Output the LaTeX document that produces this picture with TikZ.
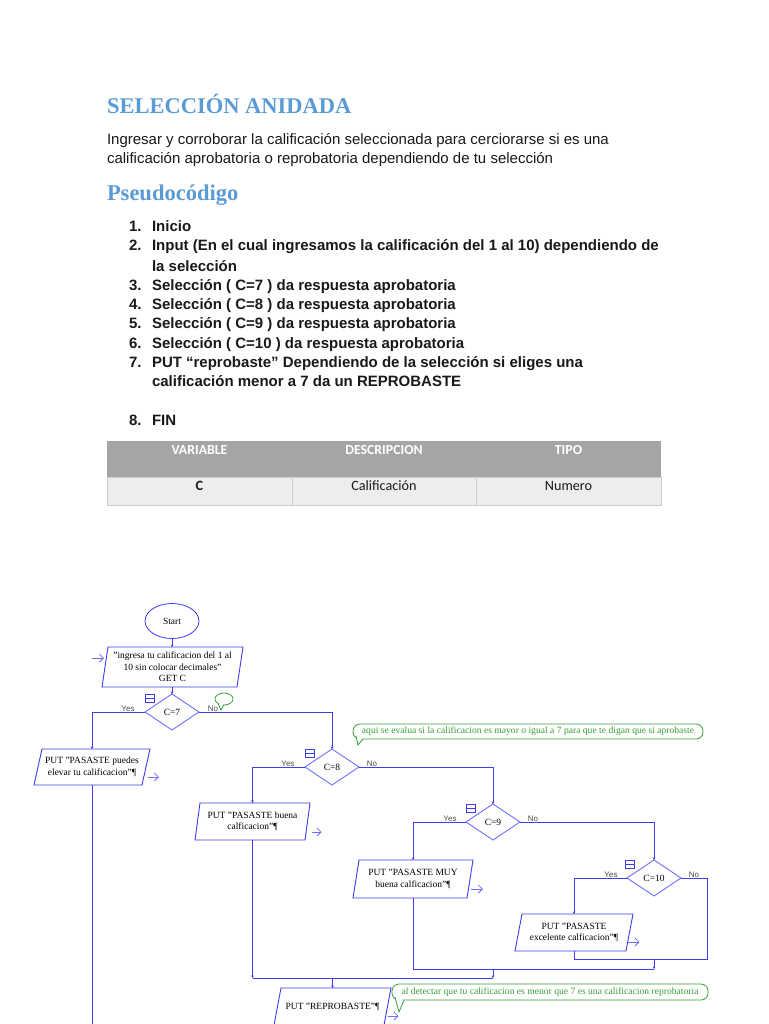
\documentclass[tikz,border=0pt]{standalone}
\usepackage{fontspec}
\setmainfont{Liberation Serif}
\setsansfont{Liberation Sans}
\newfontfamily\carlito{Carlito}
\usetikzlibrary{shapes.geometric,arrows.meta,calc}
\definecolor{headblue}{RGB}{91,155,213}
\definecolor{txt}{RGB}{25,25,25}
\definecolor{fblue}{RGB}{60,60,240}
\definecolor{lblue}{RGB}{110,110,255}
\definecolor{bgreen}{RGB}{55,160,55}
\definecolor{thead}{RGB}{165,165,165}
\definecolor{tbody}{RGB}{237,237,237}
\definecolor{tline}{RGB}{205,205,205}
\newcommand\ftxt{\fontsize{9.5}{11.5}\selectfont}
\newcommand\pgram[2]{\draw[fblue,line width=0.9] ([xshift=#2]#1.north west) -- ([xshift=#2]#1.north east) -- ([xshift=-#2]#1.south east) -- ([xshift=-#2]#1.south west) -- cycle;}
\begin{document}
\begin{tikzpicture}[x=1pt,y=-1pt,
  every node/.style={inner sep=0pt,outer sep=0pt},
  heading/.style={anchor=base west,font=\bfseries\fontsize{22.5}{26}\selectfont,text=headblue},
  body/.style={anchor=base west,font=\sffamily\fontsize{15}{17}\selectfont,text=txt},
  item/.style={anchor=base west,font=\sffamily\bfseries\fontsize{15}{17}\selectfont,text=txt},
  hcell/.style={anchor=north west,fill=thead,minimum height=36},
  bcell/.style={anchor=north west,fill=tbody,draw=tline,line width=0.8,minimum height=28},
  htext/.style={font=\carlito\bfseries\fontsize{13.8}{15}\selectfont,text=white},
  btext/.style={font=\carlito\fontsize{14.2}{16}\selectfont,text=txt},
  term/.style={ellipse,draw=fblue,line width=0.8,minimum width=54,minimum height=35,font=\ftxt},
  dec/.style={diamond,draw=lblue,line width=0.9,minimum width=54,minimum height=36,font=\ftxt},
  io/.style={align=center,font=\ftxt,text=black},
  sq/.style={rectangle,draw=fblue,line width=0.7,minimum width=9,minimum height=8,
    path picture={\draw[fblue,line width=0.6] (path picture bounding box.west) -- (path picture bounding box.east);}},
  yn/.style={anchor=base,font=\sffamily\fontsize{8}{9}\selectfont,text=black!70},
  conn/.style={draw=fblue,line width=0.9,-{Stealth[length=2.5pt,width=2.5pt]}},
  wire/.style={draw=fblue,line width=0.9},
  outarr/.style={draw=lblue,line width=0.8,-{Straight Barb[length=4pt,width=8pt]}},
  bubble/.style={draw=bgreen,rounded corners=7,line width=0.8,text=bgreen,font=\fontsize{9.6}{10.5}\selectfont}]
\fill[white] (0,0) rectangle (768,1024);
\useasboundingbox (0,0) rectangle (768,1024);

% ---------- text ----------
\node[heading] (title) at (107,114) {SELECCIÓN ANIDADA};
\node[body] (p1) at (107,145) {Ingresar y corroborar la calificación seleccionada para cerciorarse si es una};
\node[body] (p2) at (107,164) {calificación aprobatoria o reprobatoria dependiendo de tu selección};
\node[heading] (sub) at (107,201) {Pseudocódigo};

\node[item] (n1) at (129,232) {1.};
\node[item] (t1) at (152,232) {Inicio};
\node[item] (n2) at (129,251) {2.};
\node[item] (t2) at (152,251) {Input (En el cual ingresamos la calificación del 1 al 10) dependiendo de};
\node[item] (t2b) at (152,271) {la selección};
\node[item] (n3) at (129,290) {3.};
\node[item] (t3) at (152,290) {Selección ( C=7 ) da respuesta aprobatoria};
\node[item] (n4) at (129,309) {4.};
\node[item] (t4) at (152,309) {Selección ( C=8 ) da respuesta aprobatoria};
\node[item] (n5) at (129,328) {5.};
\node[item] (t5) at (152,328) {Selección ( C=9 ) da respuesta aprobatoria};
\node[item] (n6) at (129,348) {6.};
\node[item] (t6) at (152,348) {Selección ( C=10 ) da respuesta aprobatoria};
\node[item] (n7) at (129,367) {7.};
\node[item] (t7) at (152,367) {PUT “reprobaste” Dependiendo de la selección si eliges una};
\node[item] (t7b) at (152,386) {calificación menor a 7 da un REPROBASTE};
\node[item] (n8) at (129,425) {8.};
\node[item] (t8) at (152,425) {FIN};

% ---------- table ----------
\node[hcell,minimum width=185] (h1) at (107,441) {};
\node[hcell,minimum width=184] (h2) at (292,441) {};
\node[hcell,minimum width=185] (h3) at (476,441) {};
\node[bcell,minimum width=185] (b1) at (107,477) {};
\node[bcell,minimum width=184] (b2) at (292,477) {};
\node[bcell,minimum width=185] (b3) at (476,477) {};
\node[htext] (h1t) at (199.5,450.5) {VARIABLE};
\node[htext] (h2t) at (384,450.5) {DESCRIPCION};
\node[htext] (h3t) at (568.5,450.5) {TIPO};
\node[btext,font=\carlito\bfseries\fontsize{14.2}{16}\selectfont] (b1t) at (199.5,486) {C};
\node[btext] (b2t) at (384,486) {Calificación};
\node[btext] (b3t) at (568.5,486) {Numero};

% ---------- flowchart ----------
\node[term] (start) at (172,621) {Start};
\node[io,minimum width=135,minimum height=40] (inp) at (172.5,667) {"ingresa tu calificacion del 1 al\\10 sin colocar decimales"\\GET C};
\pgram{inp}{3}
\draw[outarr] ($(inp.west)+(-13,-9)$) -- ++(12,0);

\node[dec] (c7) at (172,712) {C=7};
\node[dec] (c8) at (332,767) {C=8};
\node[dec] (c9) at (493,822) {C=9};
\node[dec] (c10) at (654,878) {C=10};
\node[sq] (s7) at ($(c7)+(-22,-14)$) {};
\node[sq] (s8) at ($(c8)+(-22,-14)$) {};
\node[sq] (s9) at ($(c9)+(-22,-14)$) {};
\node[sq] (s10) at ($(c10)+(-24,-14)$) {};
\node[yn] (y7) at ($(c7)+(-44,-1)$) {Yes};
\node[yn] (o7) at ($(c7)+(41,-1)$) {No};
\node[yn] (y8) at ($(c8)+(-44,-1)$) {Yes};
\node[yn] (o8) at ($(c8)+(40,-1)$) {No};
\node[yn] (y9) at ($(c9)+(-43,-1)$) {Yes};
\node[yn] (o9) at ($(c9)+(40,-1)$) {No};
\node[yn] (y10) at ($(c10)+(-43,-1)$) {Yes};
\node[yn] (o10) at ($(c10)+(40,-1)$) {No};

\node[io,minimum width=108,minimum height=36] (put1) at (92,767) {PUT "PASASTE puedes\\elevar tu calificacion"¶};
\node[io,minimum width=110,minimum height=37] (put2) at (252.5,821.5) {PUT "PASASTE buena\\calficacion"¶};
\node[io,minimum width=114,minimum height=38] (put3) at (413,879) {PUT "PASASTE MUY\\buena calficacion"¶};
\node[io,minimum width=111,minimum height=37] (put4) at (574,932.5) {PUT "PASASTE\\excelente calficacion"¶};
\node[io,minimum width=110,minimum height=37] (rep) at (332.5,1006.5) {PUT "REPROBASTE"¶};
\pgram{put1}{4}
\pgram{put2}{2.5}
\pgram{put3}{3}
\pgram{put4}{3.5}
\pgram{rep}{3.5}
\draw[outarr] ($(put1.south east)+(2,-8)$) -- ++(11,0);
\draw[outarr] ($(put2.south east)+(4,-8)$) -- ++(10,0);
\draw[outarr] ($(put3.south east)+(1,-9)$) -- ++(12,0);
\draw[outarr] ($(put4.south east)+(-2,-9)$) -- ++(12,0);
\draw[outarr] ($(rep.south east)+(0,-9)$) -- ++(11,0);

% connectors
\draw[conn] (start.south) -- (start.south |- inp.north);
\draw[conn] (c7.north |- inp.south) -- (c7.north);
\draw[conn] (c7.west) -| (put1.north);
\draw[conn] (c7.east) -| (c8.north);
\draw[conn] (c8.west) -| (put2.north);
\draw[conn] (c8.east) -| (c9.north);
\draw[conn] (c9.west) -| (put3.north);
\draw[conn] (c9.east) -| (c10.north);
\draw[conn] (c10.west) -| (put4.north);

\coordinate (j10r) at (707,959);
\coordinate (j10) at (put4.south |- j10r);
\coordinate (j10m) at (c10 |- j10r);
\coordinate (j9m) at (654,969);
\coordinate (j9l) at (put3.south |- j9m);
\coordinate (j9c) at (c9 |- j9m);
\coordinate (j8c) at (493,978);
\coordinate (j8l) at (put2.south |- j8c);
\coordinate (j8m) at (rep.north |- j8c);
\coordinate (bot) at (0,1030);
\coordinate (end1) at (put1.south |- bot);

\draw[wire] (c10.east) -| (j10r) -- (j10);
\draw[wire] (put4.south) -- (j10);
\draw[conn] (j10m) -- (j9m);
\draw[wire] (put3.south) -- (j9l) -- (j9m);
\draw[conn] (j9c) -- (j8c);
\draw[conn] (put2.south) -- (j8l);
\draw[wire] (j8l) -- (j8c);
\draw[conn] (j8m) -- (rep.north);
\draw[wire] (put1.south) -- (end1);

% comment bubbles
\node[draw=bgreen,ellipse,line width=0.8,minimum width=18,minimum height=12] (bub0) at (224,699) {};
\fill[white] ($(bub0)+(-6,4)$) -- ($(bub0)+(-3,11)$) -- ($(bub0)+(0,5)$) -- cycle;
\draw[bgreen,line width=0.8] ($(bub0)+(-6,4.3)$) -- ($(bub0)+(-3,11)$) -- ($(bub0)+(0,5.5)$);

\node[bubble,minimum width=350,minimum height=15] (bub1) at (528,731.5) {aqui se evalua si la calificacion es mayor o igual a 7 para que te digan que si aprobaste};
\fill[white] ($(bub1.south west)+(3,-3)$) -- ($(bub1.south west)+(5,6)$) -- ($(bub1.south west)+(10,0)$) -- cycle;
\draw[bgreen,line width=0.8] ($(bub1.south west)+(3,-3)$) -- ($(bub1.south west)+(5,6)$) -- ($(bub1.south west)+(10,0)$);

\node[bubble,minimum width=316,minimum height=16] (bub2) at (550,992) {al detectar que tu calificacion es menor que 7 es una calificacion reprobatoria};
\fill[white] ($(bub2.south west)+(3,-3)$) -- ($(bub2.south west)+(7,12)$) -- ($(bub2.south west)+(12,0)$) -- cycle;
\draw[bgreen,line width=0.8] ($(bub2.south west)+(3,-3)$) -- ($(bub2.south west)+(7,12)$) -- ($(bub2.south west)+(12,0)$);
\end{tikzpicture}
\end{document}
